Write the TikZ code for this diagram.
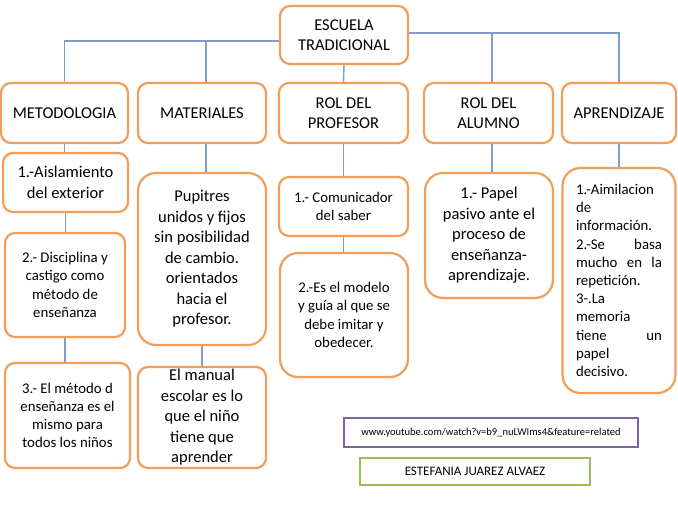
\documentclass[tikz,border=0pt]{standalone}
\usepackage{fontspec}
\setmainfont{Carlito}
\definecolor{naranja}{RGB}{242,158,88}
\definecolor{azul}{RGB}{128,158,200}
\definecolor{morado}{RGB}{128,100,162}
\definecolor{verde}{RGB}{155,187,89}
\newcommand\lineaj[1]{\leavevmode\hbox to 86pt{#1}}
\begin{document}
\begin{tikzpicture}[x=1pt,y=-1pt,
	caja/.style={draw=naranja,line width=2.2pt,rounded corners=10pt,align=center,inner sep=0pt,font=\fontsize{16.5}{20.5}\selectfont},
	chico/.style={font=\fontsize{14.8}{18.2}\selectfont},
	grande/.style={rounded corners=18pt},
	linea/.style={draw=azul,line width=1.4pt},
	marco/.style={line width=2pt,inner sep=0pt}]
		\useasboundingbox (0,0) rectangle (678,509);
		\node[caja,minimum width=128,minimum height=58] (esc) at (344,35) {ESCUELA\\TRADICIONAL};
		\node[caja,minimum width=127,minimum height=60] (meto) at (64.5,113) {METODOLOGIA};
		\node[caja,minimum width=128,minimum height=60] (mate) at (202,113) {MATERIALES};
		\node[caja,minimum width=129,minimum height=60] (prof) at (343.5,113) {ROL DEL\\PROFESOR};
		\node[caja,minimum width=129,minimum height=60] (alum) at (488.5,113) {ROL DEL\\ALUMNO};
		\node[caja,minimum width=114,minimum height=60] (apre) at (619,113) {APRENDIZAJE};
		\node[caja,minimum width=125,minimum height=59] (aisl) at (65.5,182.5) {1.-Aislamiento\\del exterior};
		\node[caja,chico,minimum width=120,minimum height=104] (disc) at (65,285) {2.- Disciplina y\\castigo como\\método de\\enseñanza};
		\node[caja,chico,minimum width=125,minimum height=105] (meth) at (67.5,415.5) {3.- El método d\\enseñanza es el\\mismo para\\todos los niños};
		\node[caja,grande,minimum width=128,minimum height=172] (pupi) at (202,259) {Pupitres\\unidos y fijos\\sin posibilidad\\de cambio.\\orientados\\hacia el\\profesor.};
		\node[caja,minimum width=128,minimum height=101] (manu) at (202,417.5) {El manual\\escolar es lo\\que el niño\\tiene que\\aprender};
		\node[caja,chico,minimum width=129,minimum height=59] (comu) at (343.5,206.5) {1.- Comunicador\\del saber};
		\node[caja,chico,grande,minimum width=128,minimum height=124] (mode) at (344,315) {2.-Es el modelo\\y guía al que se\\debe imitar y\\obedecer.};
		\node[caja,grande,minimum width=128,minimum height=125] (pape) at (489,235.5) {1.- Papel\\pasivo ante el\\proceso de\\enseñanza-\\aprendizaje.};
		\node[caja,chico,grande,align=left,text width=86,minimum width=113,minimum height=225] (aimi) at (619,280.5) {1.-Aimilacion\\de\\información.\\\lineaj{2.-Se\hfill basa}\\\lineaj{mucho\hfill en\hfill la}\\repetición.\\3-.La\\memoria\\\lineaj{tiene\hfill un}\\papel\\decisivo.};
		\node[marco,draw=morado,minimum width=294,minimum height=29,font=\fontsize{10.5}{12}\selectfont] (url) at (491,432.5) {www.youtube.com/watch?v=b9\_nuLWIms4\&feature=related};
		\node[marco,draw=verde,minimum width=230,minimum height=27,font=\fontsize{13}{15}\selectfont] (autor) at (475,471.5) {ESTEFANIA JUAREZ ALVAEZ};
		\coordinate (izq) at ([yshift=-6pt]esc.west);
		\coordinate (der) at ([yshift=2pt]esc.east);
		\draw[linea] (izq) -| (meto.north);
		\draw[linea] (izq) -| ([xshift=4pt]mate.north);
		\draw[linea] (der) -| (apre.north);
		\draw[linea] (der) -| ([xshift=3.5pt]alum.north);
		\draw[linea] (esc.south) -- (prof.north);
		\draw[linea] (meto.south) -- (meto.south |- aisl.north);
		\draw[linea] (aisl.south) -- (aisl.south |- disc.north);
		\draw[linea] (disc.south) -- (disc.south |- meth.north);
		\draw[linea] ([xshift=4pt]mate.south) -- ([xshift=4pt]mate.south |- pupi.north);
		\draw[linea] (pupi.south) -- (pupi.south |- manu.north);
		\draw[linea] (prof.south) -- (prof.south |- comu.north);
		\draw[linea] (comu.south) -- (comu.south |- mode.north);
		\draw[linea] ([xshift=3.5pt]alum.south) -- ([xshift=3.5pt]alum.south |- pape.north);
		\draw[linea] (apre.south) -- (apre.south |- aimi.north);
	\end{tikzpicture}
\end{document}
